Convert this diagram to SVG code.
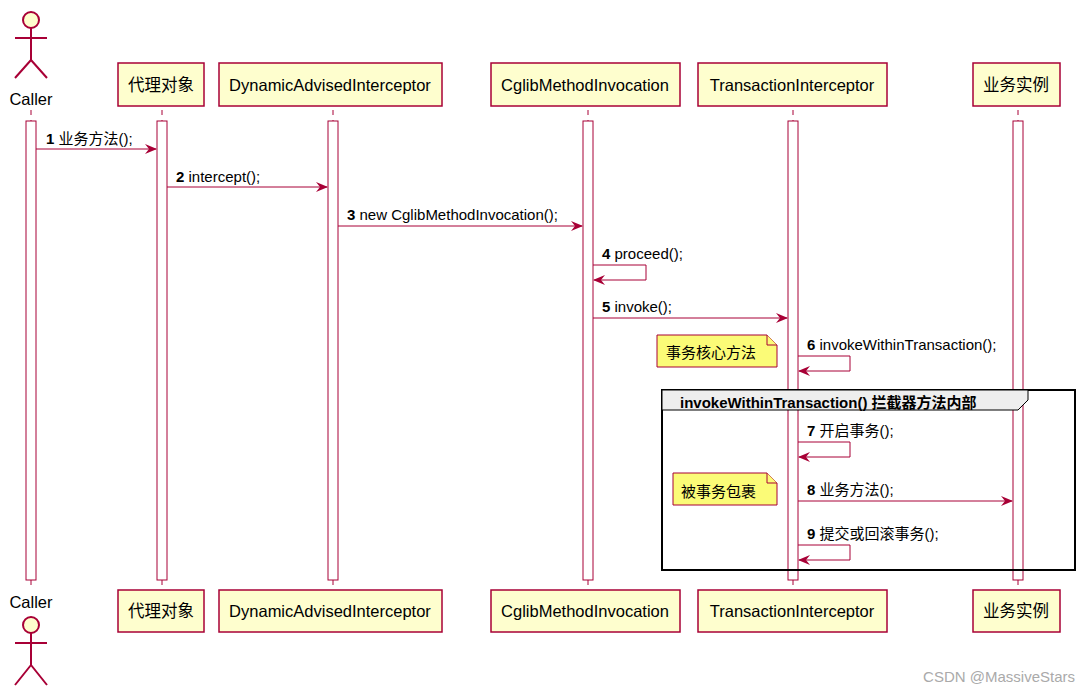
<svg xmlns="http://www.w3.org/2000/svg" width="1090" height="692" viewBox="0 0 1090 692">
<defs>
<style>
text{font-family:"Liberation Sans","Noto Sans CJK SC",sans-serif;font-size:15px;fill:#000}
.p{font-size:16.5px}
.b{font-weight:bold}
.life{stroke:#A80036;stroke-width:1;stroke-dasharray:5,5}
.act{fill:#fff;stroke:#A80036;stroke-width:1}
.part{fill:#FEFECE;stroke:#A80036;stroke-width:1.5}
.msg{stroke:#A80036;stroke-width:1;fill:none}
.note{fill:#FBFB77;stroke:#A80036;stroke-width:1}
.actor{fill:none;stroke:#A80036;stroke-width:2}
</style>
<marker id="ah" viewBox="0 0 12 10" refX="11" refY="5" markerWidth="12" markerHeight="10" orient="auto" markerUnits="userSpaceOnUse"><path d="M0,0 L12,5 L0,10 L4,5 Z" fill="#A80036"/></marker>
</defs>
<rect width="1090" height="692" fill="#fff"/>
<g id="lifelines">
<line class="life" x1="31" y1="110" x2="31" y2="588"/>
<line class="life" x1="162" y1="110" x2="162" y2="588"/>
<line class="life" x1="333" y1="110" x2="333" y2="588"/>
<line class="life" x1="588" y1="110" x2="588" y2="588"/>
<line class="life" x1="793" y1="110" x2="793" y2="588"/>
<line class="life" x1="1018" y1="110" x2="1018" y2="588"/>
<rect class="act" x="26" y="121" width="10" height="459"/>
<rect class="act" x="157" y="121" width="10" height="459"/>
<rect class="act" x="328" y="121" width="10" height="459"/>
<rect class="act" x="583" y="121" width="10" height="459"/>
<rect class="act" x="788" y="121" width="10" height="459"/>
<rect class="act" x="1013" y="121" width="10" height="459"/>
</g>
<g id="caller">
<circle class="actor" cx="31" cy="20" r="8" style="fill:#FEFECE"/>
<path class="actor" d="M31,28 V60 M15,38 H47 M31,60 L15,78 M31,60 L47,78"/>
<text class="p" x="31" y="105" text-anchor="middle">Caller</text>
<text class="p" x="31" y="608" text-anchor="middle">Caller</text>
<circle class="actor" cx="31" cy="625" r="8" style="fill:#FEFECE"/>
<path class="actor" d="M31,633 V665 M15,643 H47 M31,665 L15,685 M31,665 L47,685"/>
</g>
<g id="proxy">
<rect class="part" x="118" y="63" width="86" height="43"/><text class="p" x="161" y="91" text-anchor="middle">代理对象</text>
<rect class="part" x="118" y="590" width="86" height="42"/><text class="p" x="161" y="617" text-anchor="middle">代理对象</text>
</g>
<g id="dai">
<rect class="part" x="219" y="63" width="223" height="43"/><text class="p" x="330" y="91" text-anchor="middle">DynamicAdvisedInterceptor</text>
<rect class="part" x="219" y="590" width="223" height="42"/><text class="p" x="330" y="617" text-anchor="middle">DynamicAdvisedInterceptor</text>
</g>
<g id="cmi">
<rect class="part" x="491" y="63" width="189" height="43"/><text class="p" x="585" y="91" text-anchor="middle">CglibMethodInvocation</text>
<rect class="part" x="491" y="590" width="189" height="42"/><text class="p" x="585" y="617" text-anchor="middle">CglibMethodInvocation</text>
</g>
<g id="ti">
<rect class="part" x="698" y="63" width="189" height="43"/><text class="p" x="792" y="91" text-anchor="middle">TransactionInterceptor</text>
<rect class="part" x="698" y="590" width="189" height="42"/><text class="p" x="792" y="617" text-anchor="middle">TransactionInterceptor</text>
</g>
<g id="biz">
<rect class="part" x="973" y="63" width="87" height="43"/><text class="p" x="1016" y="91" text-anchor="middle">业务实例</text>
<rect class="part" x="973" y="590" width="87" height="42"/><text class="p" x="1016" y="617" text-anchor="middle">业务实例</text>
</g>
<g id="fragment">
<rect x="662" y="390" width="413" height="180" fill="none" stroke="#000" stroke-width="2"/>
<path d="M662,390 H1028 V400 L1018,410 H662 Z" fill="#EEEEEE" stroke="#000" stroke-width="1"/>
<text x="680" y="408" class="b">invokeWithinTransaction() 拦截器方法内部</text>
</g>
<g id="note1">
<path class="note" d="M657,335 H767 L777,345 V367 H657 Z"/><path class="note" d="M767,335 V345 H777"/>
<text x="666" y="358">事务核心方法</text>
</g>
<g id="note2">
<path class="note" d="M673,473 H767 L777,483 V505 H673 Z"/><path class="note" d="M767,473 V483 H777"/>
<text x="681" y="497">被事务包裹</text>
</g>
<g id="connectors">
<line class="msg" x1="36" y1="149" x2="156" y2="149" marker-end="url(#ah)"/>
<text x="46" y="144"><tspan class="b">1</tspan> 业务方法();</text>
<line class="msg" x1="167" y1="187" x2="327" y2="187" marker-end="url(#ah)"/>
<text x="176" y="182"><tspan class="b">2</tspan> intercept();</text>
<line class="msg" x1="338" y1="226" x2="582" y2="226" marker-end="url(#ah)"/>
<text x="347" y="220"><tspan class="b">3</tspan> new CglibMethodInvocation();</text>
<path class="msg" d="M593,265 H646 V280 H594" marker-end="url(#ah)"/>
<text x="602" y="259"><tspan class="b">4</tspan> proceed();</text>
<line class="msg" x1="593" y1="318" x2="787" y2="318" marker-end="url(#ah)"/>
<text x="602" y="312"><tspan class="b">5</tspan> invoke();</text>
<path class="msg" d="M798,356 H850 V371 H799" marker-end="url(#ah)"/>
<text x="807" y="350"><tspan class="b">6</tspan> invokeWithinTransaction();</text>
<path class="msg" d="M798,442 H850 V457 H799" marker-end="url(#ah)"/>
<text x="807" y="436"><tspan class="b">7</tspan> 开启事务();</text>
<line class="msg" x1="798" y1="501" x2="1012" y2="501" marker-end="url(#ah)"/>
<text x="807" y="495"><tspan class="b">8</tspan> 业务方法();</text>
<path class="msg" d="M798,545 H850 V560 H799" marker-end="url(#ah)"/>
<text x="807" y="539"><tspan class="b">9</tspan> 提交或回滚事务();</text>
</g>
<text x="1075" y="682" text-anchor="end" style="fill:#aaa;font-size:15px">CSDN @MassiveStars</text>
</svg>
